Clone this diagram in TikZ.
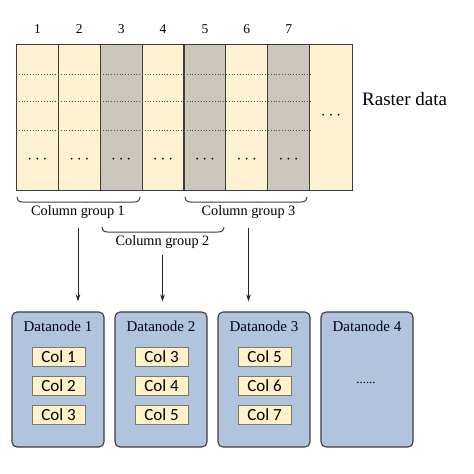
\documentclass[tikz,border=0pt]{standalone}
\usepackage{fontspec}
\setmainfont{Liberation Serif}
\newfontfamily\colfont{Carlito}
\usetikzlibrary{calc,arrows.meta}
\definecolor{cellyellow}{HTML}{FFF2D3}
\definecolor{cellgray}{HTML}{CCC6BC}
\definecolor{nodeblue}{HTML}{B0C4DE}
\definecolor{boxyellow}{HTML}{FFF1C8}
\definecolor{edge}{HTML}{3C3C3C}
\definecolor{boxedge}{HTML}{7A7868}
\begin{document}
\begin{tikzpicture}[x=1pt,y=-1pt,
  colcell/.style={draw=edge, line width=1.1pt, inner sep=0pt, anchor=north west, minimum height=146pt},
  numlabel/.style={inner sep=0pt, font=\fontsize{13.5}{14}\selectfont},
  dotline/.style={draw=edge!90, line width=0.9pt, dash pattern=on 0.9pt off 1.9pt},
  celldots/.style={inner sep=0pt, font=\fontsize{16}{16}\selectfont},
  grouplabel/.style={inner sep=0pt, font=\fontsize{14.3}{15}\selectfont},
  bracket/.style={draw=edge, line width=1pt},
  arrowline/.style={draw=black!85, line width=1pt, -{Stealth[length=7pt,width=4.5pt]}},
  datanode/.style={draw=edge, line width=1.1pt, fill=nodeblue, rounded corners=5pt, minimum width=92pt, minimum height=135pt, inner sep=0pt},
  dntitle/.style={inner sep=0pt, font=\fontsize{15}{16}\selectfont, text=black!90!blue},
  colbox/.style={draw=boxedge, line width=1pt, fill=boxyellow, minimum width=53pt, minimum height=19pt, inner sep=0pt, font=\colfont\fontsize{17}{17}\selectfont}
]
\useasboundingbox (0,0) rectangle (474,474);

% raster columns
\foreach \i/\f in {1/cellyellow,2/cellyellow,3/cellgray,4/cellyellow,5/cellgray,6/cellyellow,7/cellgray}
  \node[colcell, fill=\f, minimum width=41.86pt] (c\i) at ({16+(\i-1)*41.86},44) {};
\node[colcell, fill=cellyellow, minimum width=43pt] (c8) at (309,44) {};

% column numbers
\foreach \i in {1,...,7}
  \node[numlabel] (n\i) at (c\i.center |- 0,29) {\i};

% dotted row lines
\foreach \y [count=\k] in {74,101,130}
  \draw[dotline] (c1.west |- 0,\y) -- (c7.east |- 0,\y);

% ellipsis in cells
\foreach \i in {1,...,7}
  \node[celldots] (d\i) at (c\i.center |- 0,160) {$\cdots$};
\node[celldots] (d8) at (c8.center |- 0,116) {$\cdots$};

% label
\node[anchor=west, inner sep=0pt, font=\fontsize{19}{20}\selectfont] (rd) at (362,99) {Raster data};

% brackets
\draw[bracket] (17,197) .. controls (17.5,200.5) and (19,202) .. (23,202) -- (134,202) .. controls (138,202) and (139.5,200.5) .. (140,197);
\draw[bracket] (185,197) .. controls (185.5,200.5) and (187,202) .. (191,202) -- (301,202) .. controls (305,202) and (306.5,200.5) .. (307,197);
\draw[bracket] (102,227) .. controls (102.5,230.5) and (104,232) .. (108,232) -- (218,232) .. controls (222,232) and (223.5,230.5) .. (224,227);

% group labels
\node[grouplabel] (g1) at (78,212) {Column group 1};
\node[grouplabel] (g3) at (248.5,212) {Column group 3};
\node[grouplabel] (g2) at (162.5,242) {Column group 2};

% datanodes
\foreach \i in {1,...,4}
  \node[datanode] (dn\i) at ({58+(\i-1)*103},379.5) {};
\foreach \i in {1,...,4}
  \node[dntitle] (t\i) at (dn\i.north |- 0,326) {Datanode \i};

% column boxes
\node[colbox] (b11) at (58.5,356.5) {Col 1};
\node[colbox] (b12) at (58.5,385.5) {Col 2};
\node[colbox] (b13) at (58.5,414.5) {Col 3};
\node[colbox] (b21) at (161.5,356.5) {Col 3};
\node[colbox] (b22) at (161.5,385.5) {Col 4};
\node[colbox] (b23) at (161.5,414.5) {Col 5};
\node[colbox] (b31) at (264.5,356.5) {Col 5};
\node[colbox] (b32) at (264.5,385.5) {Col 6};
\node[colbox] (b33) at (264.5,414.5) {Col 7};
\node[inner sep=0pt, font=\fontsize{12.7}{13}\selectfont] (dn4dots) at (366,383) {......};

% arrows
\draw[arrowline, shorten <=9pt, shorten >=10pt] (g1.south) -- (g1.south |- dn1.north);
\draw[arrowline, shorten <=6pt, shorten >=10pt] (g2.south) -- (g2.south |- dn2.north);
\draw[arrowline, shorten <=9pt, shorten >=10pt] (g3.south) -- (g3.south |- dn3.north);
\end{tikzpicture}
\end{document}
